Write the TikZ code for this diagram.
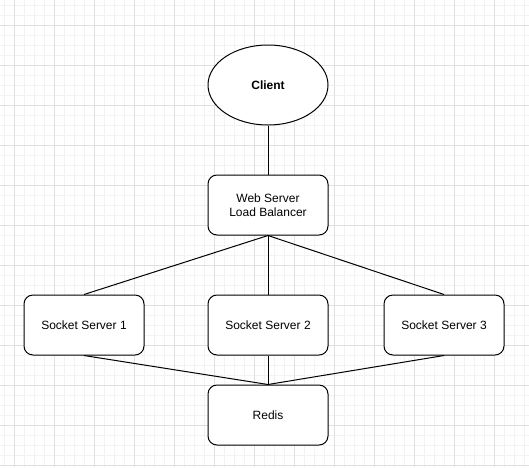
\documentclass[tikz,border=0pt]{standalone}
\usepackage{fontspec}
\setmainfont{Liberation Sans}
\usetikzlibrary{shapes.geometric}
\definecolor{gridmajor}{HTML}{E0E0E0}
\definecolor{gridminor}{HTML}{F2F2F2}
\tikzset{
  box/.style={draw=black, line width=1pt, rounded corners=9pt, fill=white,
    minimum width=120pt, minimum height=60pt, inner sep=0pt, align=center,
    font=\fontsize{12}{13.5}\selectfont},
  oval/.style={draw=black, line width=1pt, ellipse, fill=white,
    minimum width=120pt, minimum height=80pt, inner sep=0pt,
    font=\fontsize{12}{14}\selectfont\bfseries},
  link/.style={draw=black, line width=1pt}
}
\begin{document}
\begin{tikzpicture}[x=1pt,y=-1pt]
\useasboundingbox (0,0) rectangle (529,467);
\fill[white] (0,0) rectangle (529,467);
% minor grid
\foreach \gx in {4,14,...,524} \draw[gridminor, line width=1pt] (\gx,0) -- (\gx,467);
\foreach \gy in {5,15,...,465} \draw[gridminor, line width=1pt] (0,\gy) -- (529,\gy);
% major grid
\foreach \gx in {14,54,...,524} \draw[gridmajor, line width=1pt] (\gx,0) -- (\gx,467);
\foreach \gy in {25,65,...,465} \draw[gridmajor, line width=1pt] (0,\gy) -- (529,\gy);

\node[oval] (client) at (268,85) {Client};
\node[box] (web) at (268,205) {Web Server\\Load Balancer};
\node[box] (ss1) at (84,325) {Socket Server 1};
\node[box] (ss2) at (268,325) {Socket Server 2};
\node[box] (ss3) at (444,325) {Socket Server 3};
\node[box] (redis) at (268,415) {Redis};

\draw[link] (client.south) -- (web.north);
\draw[link] (web.south) -- (ss1.north);
\draw[link] (web.south) -- (ss2.north);
\draw[link] (web.south) -- (ss3.north);
\draw[link] (ss1.south) -- (redis.north);
\draw[link] (ss2.south) -- (redis.north);
\draw[link] (ss3.south) -- (redis.north);
\end{tikzpicture}
\end{document}
